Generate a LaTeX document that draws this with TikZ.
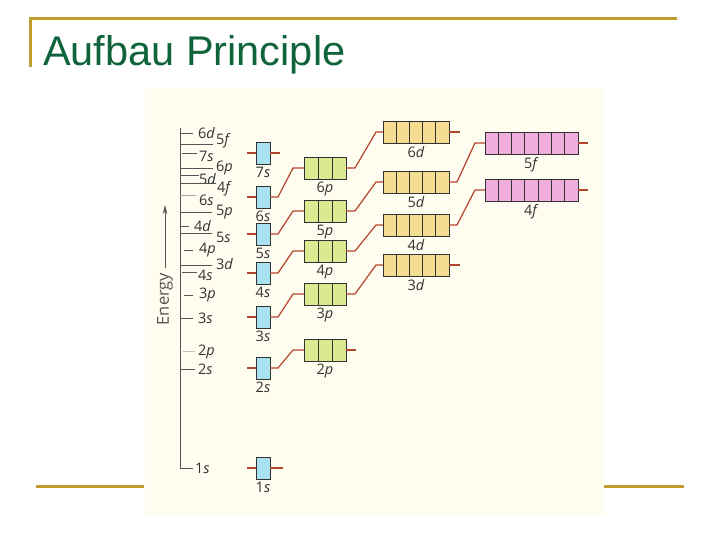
\documentclass[tikz,border=0pt]{standalone}
\usepackage{fontspec}
\setmainfont{Liberation Sans}
\newfontfamily\lblfont{Open Sans}
\usetikzlibrary{arrows.meta}
\definecolor{cgold}{HTML}{BF9B30}
\definecolor{cgreen}{HTML}{10633A}
\definecolor{ccream}{HTML}{FFFCF0}
\definecolor{cs}{HTML}{A8E2F0}
\definecolor{cp}{HTML}{DAEA90}
\definecolor{cd}{HTML}{F5DC92}
\definecolor{cf}{HTML}{EFAEDD}
\definecolor{cline}{HTML}{B4452C}
\definecolor{caxis}{HTML}{555555}

\begin{document}
\begin{tikzpicture}[x=1pt,y=-1pt,
    gold/.style={cgold,line width=3pt},
    lbl/.style={font=\lblfont\fontsize{14.5}{15}\selectfont,text=black!80,inner sep=0pt},
    lvl/.style={lbl,anchor=west},
    tick/.style={caxis,line width=0.9pt},
    orb/.style={draw=black!80,line width=0.8pt,minimum height=22pt,inner sep=0pt,outer sep=0pt},
    sbox/.style={orb,fill=cs,minimum width=14pt},
    pbox/.style={orb,fill=cp,minimum width=42pt},
    dbox/.style={orb,fill=cd,minimum width=66pt},
    fbox/.style={orb,fill=cf,minimum width=93.1pt},
    cellline/.style={black!80,line width=0.8pt},
    conn/.style={cline,line width=1.2pt}]
    \useasboundingbox (0,0) rectangle (720,540);

    % slide frame
    \draw[gold] (30,67) -- (30,18.5) -- (677,18.5);
    \draw[gold] (36,486) -- (144,486);
    \draw[gold] (603,486) -- (684,486);
    \node[anchor=base west,inner sep=0pt,text=cgreen,font=\fontsize{41.5}{42}\selectfont] (title) at (43,66) {Aufbau Principle};
    \fill[ccream] (145,88) rectangle (604,515);

    % energy scale
    \draw[tick] (180,128) -- (180,468) -- (193,468);
    \draw[tick,-{Stealth[length=9pt,width=4.5pt]}] (165,268) -- (165,205);
    \node[rotate=90,font=\lblfont\fontsize{16.5}{17}\selectfont,text=caxis] (energy) at (165,299) {Energy};
    \draw[tick] (180,133) -- (193,133); \node[lvl] (e6d) at (198,133) {6\textit{d}};
    \draw[tick] (180,144) -- (213,144); \node[lvl] (e5f) at (216,141) {5\textit{f}};
    \draw[tick] (182,153) -- (197,153); \node[lvl] (e7s) at (199,156) {7\textit{s}};
    \draw[tick] (180,168) -- (213,168); \node[lvl] (e6p) at (216,168) {6\textit{p}};
    \draw[tick] (180,175) -- (199,175); \node[lvl] (e5d) at (199,179) {5\textit{d}};
    \draw[tick] (180,183) -- (216,183); \node[lvl] (e4f) at (217,189) {4\textit{f}};
    \draw[tick,black!35] (180,195) -- (196,195); \node[lvl] (e6s) at (199,200) {6\textit{s}};
    \draw[tick] (180,212) -- (212,212); \node[lvl] (e5p) at (216,212) {5\textit{p}};
    \draw[tick] (180,226) -- (189,226); \node[lvl] (e4d) at (194,226) {4\textit{d}};
    \draw[tick] (180,233) -- (212,233); \node[lvl] (e5s) at (216,237) {5\textit{s}};
    \draw[tick] (184,250) -- (193,250); \node[lvl] (e4p) at (199,250) {4\textit{p}};
    \draw[tick] (180,265) -- (212,265); \node[lvl] (e3d) at (216,264) {3\textit{d}};
    \draw[tick] (182,272) -- (197,272); \node[lvl] (e4s) at (198,275) {4\textit{s}};
    \draw[tick] (184,295) -- (193,295); \node[lvl] (e3p) at (199,295) {3\textit{p}};
    \draw[tick] (180,318) -- (193,318); \node[lvl] (e3s) at (198,318) {3\textit{s}};
    \draw[tick,black!25] (183,351) -- (195,351); \node[lvl] (e2p) at (198,352) {2\textit{p}};
    \draw[tick] (180,369) -- (195,369); \node[lvl] (e2s) at (198,369) {2\textit{s}};
    \node[lvl] (e1s) at (195,468) {1\textit{s}};

    % orbitals
    \node[sbox,label={[lbl,label distance=3pt]below:7\textit{s}}] (s7) at (263,153) {};
    \node[sbox,label={[lbl,label distance=3pt]below:6\textit{s}}] (s6) at (263,197) {};
    \node[sbox,label={[lbl,label distance=3pt]below:5\textit{s}}] (s5) at (263,234) {};
    \node[sbox,label={[lbl,label distance=3pt]below:4\textit{s}}] (s4) at (263,273) {};
    \node[sbox,label={[lbl,label distance=3pt]below:3\textit{s}}] (s3) at (263,317) {};
    \node[sbox,label={[lbl,label distance=3pt]below:2\textit{s}}] (s2) at (263,368) {};
    \node[sbox,label={[lbl,label distance=3pt]below:1\textit{s}}] (s1) at (263,468) {};
    \node[pbox,label={[lbl,label distance=3pt]below:6\textit{p}}] (p6) at (325,168) {};
    \node[pbox,label={[lbl,label distance=3pt]below:5\textit{p}}] (p5) at (325,211) {};
    \node[pbox,label={[lbl,label distance=3pt]below:4\textit{p}}] (p4) at (325,251) {};
    \node[pbox,label={[lbl,label distance=3pt]below:3\textit{p}}] (p3) at (325,294) {};
    \node[pbox,label={[lbl,label distance=3pt]below:2\textit{p}}] (p2) at (325,350) {};
    \node[dbox,label={[lbl,label distance=3pt]below:6\textit{d}}] (d6) at (416,132) {};
    \node[dbox,label={[lbl,label distance=3pt]below:5\textit{d}}] (d5) at (416,182) {};
    \node[dbox,label={[lbl,label distance=3pt]below:4\textit{d}}] (d4) at (416,225) {};
    \node[dbox,label={[lbl,label distance=3pt]below:3\textit{d}}] (d3) at (416,265) {};
    \node[fbox,label={[lbl,label distance=3pt]below:5\textit{f}}] (f5) at (531.5,143) {};
    \node[fbox,label={[lbl,label distance=3pt]below:4\textit{f}}] (f4) at (531.5,190) {};
    \foreach \n in {p2,p3,p4,p5,p6}
      \foreach \k in {1,2}
        \draw[cellline] ([xshift=14pt*\k]\n.south west) -- ([xshift=14pt*\k]\n.north west);
    \foreach \n in {d3,d4,d5,d6}
      \foreach \k in {1,...,4}
        \draw[cellline] ([xshift=13.2pt*\k]\n.south west) -- ([xshift=13.2pt*\k]\n.north west);
    \foreach \n in {f4,f5}
      \foreach \k in {1,...,6}
        \draw[cellline] ([xshift=13.3pt*\k]\n.south west) -- ([xshift=13.3pt*\k]\n.north west);

    % filling order
    \foreach \n in {1,...,7}
      \draw[conn] (s\n.west) -- ++(-9,0);
    \foreach \n in {2,...,6}
      \draw[conn] (s\n.east) -- ++(8,0) -- ([xshift=-11pt]p\n.west) -- (p\n.west);
    \foreach \n in {3,...,6}
      \draw[conn] (p\n.east) -- ++(9,0) -- ([xshift=-7pt]d\n.west) -- (d\n.west);
    \foreach \n in {4,5}
      \draw[conn] (d\n.east) -- ++(8,0) -- ([xshift=-10pt]f\n.west) -- (f\n.west);
    \draw[conn] (s7.east) -- ++(10,0);
    \draw[conn] (s1.east) -- ++(13,0);
    \draw[conn] (p2.east) -- ++(10,0);
    \draw[conn] (d3.east) -- ++(11,0);
    \draw[conn] (d6.east) -- ++(11,0);
    \draw[conn] (f5.east) -- ++(10,0);
    \draw[conn] (f4.east) -- ++(10,0);
  \end{tikzpicture}
\end{document}
